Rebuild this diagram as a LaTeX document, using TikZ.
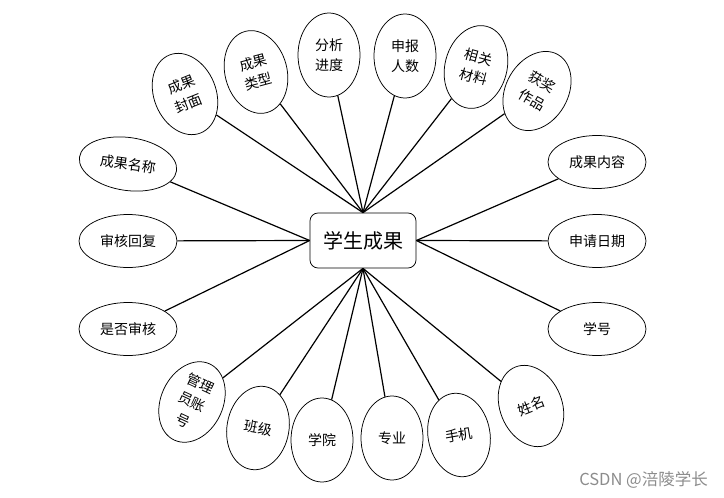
\documentclass[tikz,border=0pt]{standalone}
\usepackage{fontspec}
\setmainfont{Noto Sans CJK SC}
\newfontfamily\cjk{Noto Sans CJK SC}
\usetikzlibrary{shapes.geometric}
\begin{document}
\begin{tikzpicture}[x=1pt,y=-1pt,
  attr/.style={draw,ellipse,line width=0.75pt,inner sep=0pt,
    minimum width=62pt,minimum height=84pt,align=center,
    font=\fontsize{14}{20}\selectfont\cjk},
  side/.style={draw,ellipse,line width=0.75pt,inner sep=0pt,
    minimum width=98pt,minimum height=53pt,
    font=\fontsize{14}{18}\selectfont\cjk},
  link/.style={line width=1.2pt},
  entity/.style={draw,rounded corners=8pt,line width=0.75pt,
    minimum width=106pt,minimum height=55pt,inner sep=0pt,
    font=\fontsize{20}{24}\selectfont\cjk}]
\useasboundingbox (0,0) rectangle (724,498);
\node[entity] (box) at (363,240.5) {学生成果};
% left
\node[side,rotate=-8] (mc) at (128,164) {成果名称};
\node[side] (hf) at (128,241) {审核回复};
\node[side] (sh) at (128,329) {是否审核};
% right
\node[side] (nr) at (597,162) {成果内容};
\node[side] (rq) at (597,241) {申请日期};
\node[side] (xh) at (597,329) {学号};
% top
\node[attr,rotate=22] (fm) at (185,94) {成果\\封面};
\node[attr,rotate=15] (lx) at (256,72) {成果\\类型};
\node[attr] (jd) at (329,55) {分析\\进度};
\node[attr] (rs) at (405,56) {申报\\人数};
\node[attr,rotate=-15] (cl) at (476,67) {相关\\材料};
\node[attr,rotate=-30] (zp) at (537,91) {获奖\\作品};
% bottom
\node[attr,rotate=-25] (gl) at (192,402) {管理\\员账\\号};
\node[attr,rotate=-10] (bj) at (258,428) {班级};
\node[attr] (xy) at (322,440) {学院};
\node[attr] (zy) at (392,438) {专业};
\node[attr,rotate=10] (sj) at (459,435) {手机};
\node[attr,rotate=22] (xm) at (531,406) {姓名};
% links
\foreach \n in {mc,hf,sh} \draw[link] (\n) -- (box.west);
\foreach \n in {nr,rq,xh} \draw[link] (\n) -- (box.east);
\foreach \n in {fm,lx,jd,rs,cl,zp} \draw[link] (\n) -- (box.north);
\foreach \n in {gl,bj,xy,zy,sj,xm} \draw[link] (\n) -- (box.south);
\node[text=black!45,anchor=east,inner sep=0pt,font=\fontsize{16.5}{18}\selectfont\cjk] (wm) at (708,480) {CSDN @涪陵学长};
\end{tikzpicture}
\end{document}
